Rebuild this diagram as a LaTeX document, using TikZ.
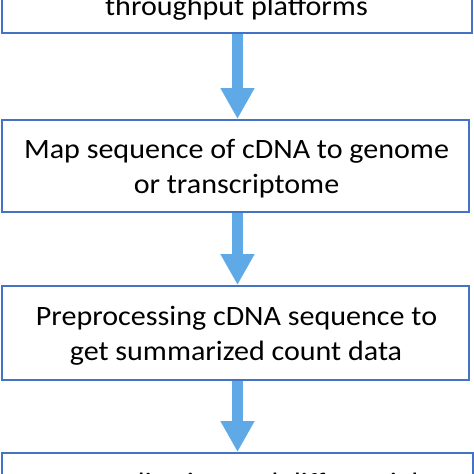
\documentclass[tikz,border=0pt]{standalone}
\usepackage{fontspec}
\setmainfont{Carlito}
\newfontfamily\wideflow{Carlito}[FakeStretch=1.074]
\usetikzlibrary{arrows.meta}
\definecolor{boxblue}{RGB}{68,114,196}
\definecolor{arrowblue}{RGB}{95,170,230}
\begin{document}
\begin{tikzpicture}[x=1pt,y=-1pt,
  stepbox/.style={draw=boxblue, line width=2pt, fill=white, rectangle, inner sep=0pt},
  txt/.style={font=\wideflow\fontsize{28}{34}\selectfont, text=black, inner sep=0pt, anchor=base},
  flow/.style={draw=arrowblue, line width=11pt, -{Triangle[width=32pt,length=31pt]}}]
\useasboundingbox (0,0) rectangle (474,474);
\clip (0,0) rectangle (474,474);
\fill[white] (0,0) rectangle (474,474);
% boxes
\node[stepbox, minimum width=470.5pt, minimum height=93pt] (b1) at (236.75,-13.5) {};
\node[stepbox, minimum width=467.5pt, minimum height=91.5pt] (b2) at (235.25,165.75) {};
\node[stepbox, minimum width=467pt, minimum height=94pt] (b3) at (235,333) {};
\node[stepbox, minimum width=471.5pt, minimum height=107pt] (b4) at (237.25,506.5) {};
% arrows
\coordinate (ax) at (237.5,0);
\draw[flow] (b1.south -| ax) -- (b2.north -| ax);
\draw[flow] (b2.south -| ax) -- (b3.north -| ax);
\draw[flow] (b3.south -| ax) -- (b4.north -| ax);
% texts
\node[txt] (t1) at (236.5,15) {throughput platforms};
\node[txt] (t2a) at (236.5,158) {Map sequence of cDNA to genome};
\node[txt] (t2b) at (236.5,193) {or transcriptome};
\node[txt] (t3a) at (236.5,325) {Preprocessing cDNA sequence to};
\node[txt] (t3b) at (236,360) {get summarized count data};
\node[txt] (t4) at (236,492) {Normalization and differential};
\end{tikzpicture}
\end{document}
